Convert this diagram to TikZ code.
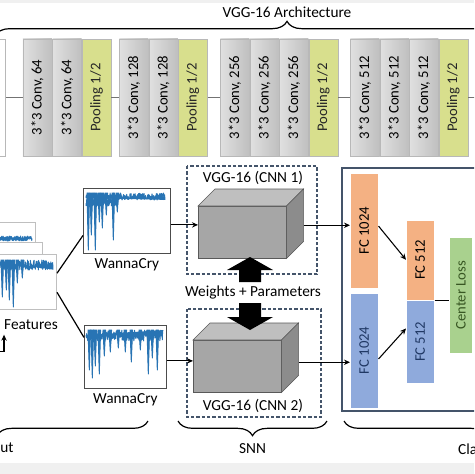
\documentclass[tikz,border=0pt]{standalone}
\usepackage{fontspec}
\setmainfont{Carlito}
\usepackage{graphicx}
\usetikzlibrary{arrows.meta,positioning,calc,decorations.pathreplacing}

\definecolor{poolgreen}{RGB}{216,223,141}
\definecolor{fcorange}{RGB}{244,177,131}
\definecolor{fcblue}{RGB}{143,170,220}
\definecolor{lossgreen}{RGB}{169,209,142}
\definecolor{slate}{RGB}{68,84,106}
\definecolor{waveblue}{RGB}{40,116,180}
\definecolor{navytext}{RGB}{32,56,100}
\definecolor{greentext}{RGB}{56,87,35}

% noisy signal: x from, x to, band top, band depth, spikes x/y
\newcommand{\malwave}[5]{%
  \draw[wave] plot[domain=#1:#2, samples=220, variable=\t] (\t,{#3+#4*rnd});
  \foreach \sx/\sy in {#5}
    \filldraw[wave] (\sx-1,#3) -- (\sx+0.3,\sy) -- (\sx+1.6,#3) -- cycle;
}

\begin{document}
\begin{tikzpicture}[
    x=0.75pt, y=-0.75pt,
    font=\fontsize{11.5}{13}\selectfont,
    node distance=0pt,
    block/.style={draw=black!28, minimum width=21.75pt, minimum height=87.75pt, inner sep=0pt, font=\fontsize{11}{13}\selectfont},
    conv/.style={block, left color=black!12, right color=black!25},
    pool/.style={block, fill=poolgreen, text=black!85},
    link/.style={draw=black!55, line width=0.8pt},
    arr/.style={-{Stealth[length=4.5pt,width=4pt]}, line width=0.8pt},
    wave/.style={draw=waveblue, fill=waveblue, line width=0.7pt, line join=round},
    sigbox/.style={draw=black!25, fill=white, minimum width=56pt, minimum height=41.25pt, anchor=north east},
    wcbox/.style={draw=black!70, fill=white, line width=0.6pt, inner sep=0pt, anchor=north west},
    cube/.style={draw=black!65, fill=black!35, minimum width=66pt, minimum height=39pt, inner sep=0pt, anchor=north west},
    dashbox/.style={draw=slate, dash pattern=on 2.5pt off 1.5pt, line width=0.8pt},
    fc/.style={draw=white, minimum width=21pt, inner sep=0pt, anchor=north west, font=\fontsize{11}{13}\selectfont},
    brace/.style={decorate, decoration={brace, amplitude=11pt}, line width=0.9pt}
]
\useasboundingbox (0,0) rectangle (474,474);
\clip (0,0) rectangle (474,474);
\pgfmathsetseed{7}
\fill[black!6] (0,0) rectangle (474,3);
\fill[black!6] (0,463) rectangle (474,474);

% VGG-16 row
\node[block, fill=white, minimum width=30pt, anchor=east] (in0) at (6,97.5) {};
\node[conv, anchor=west] (c11) at (22.7,97.5) {\rotatebox{90}{3*3 Conv, 64}};
\node[conv, right=of c11] (c12) {\rotatebox{90}{3*3 Conv, 64}};
\node[pool, right=of c12] (p1) {\rotatebox{90}{Pooling 1/2}};
\node[conv, anchor=west] (c21) at (119,97.5) {\rotatebox{90}{3*3 Conv, 128}};
\node[conv, right=of c21] (c22) {\rotatebox{90}{3*3 Conv, 128}};
\node[pool, right=of c22] (p2) {\rotatebox{90}{Pooling 1/2}};
\node[conv, anchor=west] (c31) at (220,97.5) {\rotatebox{90}{3*3 Conv, 256}};
\node[conv, right=of c31] (c32) {\rotatebox{90}{3*3 Conv, 256}};
\node[conv, right=of c32] (c33) {\rotatebox{90}{3*3 Conv, 256}};
\node[pool, right=of c33] (p3) {\rotatebox{90}{Pooling 1/2}};
\node[conv, anchor=west] (c41) at (350,97.5) {\rotatebox{90}{3*3 Conv, 512}};
\node[conv, right=of c41] (c42) {\rotatebox{90}{3*3 Conv, 512}};
\node[conv, right=of c42] (c43) {\rotatebox{90}{3*3 Conv, 512}};
\node[pool, right=of c43] (p4) {\rotatebox{90}{Pooling 1/2}};
\coordinate (rowend) at (480,97.5);

\foreach \a/\b in {in0/c11, p1/c21, p2/c31, p3/c41, p4/rowend}
  \draw[link] (\a) -- (\b);

\draw[brace] (-5,36) -- (579,36);
\node (archlbl) at (287,12) {VGG-16 Architecture};

% input features
\node[sigbox] (featC) at (36,222) {};
\malwave{-15}{32}{236}{5}{}
\node[sigbox] (featB) at (43,242) {};
\node[sigbox] (feat) at (57,254) {};
\malwave{-15}{53}{260}{10}{-2/292, 2/297, 6/290, 9/300, 13/307, 17/283, 22/278}
\node (featlbl) at (31,325) {Features};
\coordinate (fsrc) at (-8,351.5);
\draw[arr] (fsrc) -| ([xshift=3.4pt]featlbl.south west);

% WannaCry images
\node[wcbox, minimum width=65.25pt, minimum height=48.75pt] (wc1) at (83,188) {};
\malwave{86}{165}{193}{7}{88/250, 91/235, 95/250, 99/222, 102/228, 106/215, 113/240, 117/212}
\malwave{86}{118}{197}{9}{}
\node[below=0pt of wc1] (wc1lbl) {WannaCry};
\node[wcbox, minimum width=61.5pt, minimum height=47.25pt] (wc2) at (84,325) {};
\malwave{86}{163}{330}{11}{89/370, 92/378, 95/366, 99/374, 104/356, 110/352, 118/348, 125/352, 131/362, 140/350, 148/374, 152/358, 157/370}
\node[below=0pt of wc2] (wc2lbl) {WannaCry};

\draw[line width=0.9pt] ([yshift=6.4pt]feat.east) -- ([yshift=-10.9pt]wc1.west);
\draw[line width=0.9pt] ([yshift=-7.9pt]feat.east) -- ([yshift=14.6pt]wc2.west);

% SNN
\draw[dashbox] (187,166) rectangle (317,274);
\draw[dashbox] (187,309) rectangle (321,417);
\node (cnnAlbl) at (253,178) {VGG-16 (CNN 1)};
\node (cnnBlbl) at (253,406) {VGG-16 (CNN 2)};
\node[cube] (cnnA) at (198,206) {};
\node[cube] (cnnB) at (193,340) {};
\foreach \c in {cnnA, cnnB} {
  \filldraw[draw=black!65, fill=black!25] (\c.north west) -- ($(\c.north west)+(17,-17)$) -- ($(\c.north east)+(17,-17)$) -- (\c.north east) -- cycle;
  \filldraw[draw=black!65, fill=black!45] (\c.north east) -- ($(\c.north east)+(17,-17)$) -- ($(\c.south east)+(17,-17)$) -- (\c.south east) -- cycle;
}
\fill (250,257) -- (273,270) -- (261,270) -- (261,282) -- (239,282) -- (239,270) -- (227,270) -- cycle;
\fill (250,330) -- (273,317) -- (261,317) -- (261,303) -- (239,303) -- (239,317) -- (227,317) -- cycle;
\node (wp) at (253,292) {Weights + Parameters};

% classifier
\draw[slate, line width=1pt] (342,168) rectangle (490,411);
\node[fc, fill=fcorange, minimum height=86.25pt] (fcA) at (350,173) {\rotatebox{90}{FC 1024}};
\node[fc, fill=fcblue, text=navytext, minimum height=86.25pt, below=3pt of fcA] (fcB) {\rotatebox{90}{FC 1024}};
\node[fc, fill=fcorange, minimum height=60pt] (fcC) at (406,219.5) {\rotatebox{90}{FC 512}};
\node[fc, fill=fcblue, text=navytext, minimum height=62.25pt, below=0pt of fcC] (fcD) {\rotatebox{90}{FC 512}};
\node[fc, fill=lossgreen, text=greentext, minimum width=17.6pt, minimum height=87pt] (loss) at (449,237) {\rotatebox{90}{Center Loss}};

\draw[arr] ([yshift=-3pt]wc1.east) -- ([yshift=-3pt]wc1.east -| cnnA.west);
\draw[arr] ([yshift=-3pt]wc2.east) -- ([yshift=-3pt]wc2.east -| cnnB.west);
\coordinate (cnnAout) at ($(cnnA.east)+(17,-7)$);
\coordinate (cnnBout) at ($(cnnB.east)+(17,-4)$);
\draw[arr] (cnnAout) -- (cnnAout -| fcA.west);
\draw[arr] (cnnBout) -- (cnnBout -| fcB.west);
\draw[arr] ([yshift=3.5pt]fcA.east) -- (fcC.west);
\draw[arr] ([yshift=-6.5pt]fcB.east) -- ([yshift=10pt]fcD.west);
\draw[line width=0.8pt] (fcC.south east) -- (fcC.south east -| loss.west);

% braces below
\draw[brace] (148,421) -- (-154,421);
\node (inlbl) at (-3,449) {Input};
\draw[brace] (327,421) -- (178,421);
\node (snnlbl) at (252.5,449) {SNN};
\draw[brace] (628,421) -- (344,421);
\node (clslbl) at (486,449) {Classifier};
\end{tikzpicture}
\end{document}
